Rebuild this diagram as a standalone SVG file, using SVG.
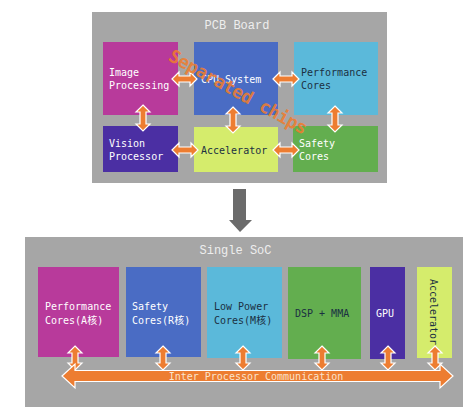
<svg xmlns="http://www.w3.org/2000/svg" width="474" height="415" viewBox="0 0 474 415">
<style>
.panel{fill:#a6a6a6}
.title{font-family:"Liberation Mono","DejaVu Sans Mono",monospace;font-size:12px;fill:#eeeeee;text-anchor:middle}
.lbl{font-family:"DejaVu Sans Mono","Noto Sans CJK SC",monospace;font-size:10px}
.w{fill:#ffffff}
.d{fill:#1b3042}
.arr{fill:#ed7d31;stroke:#ffffff;stroke-width:1.2;stroke-linejoin:miter}
.mag{fill:#b83a9b}.blu{fill:#4a6cc4}.lbl2{fill:#5bb9da}.pur{fill:#4b2fa3}.lime{fill:#d5ec6c}.grn{fill:#63ae4f}
.sep{font-family:"DejaVu Sans Mono",monospace;font-weight:bold;font-size:18px;letter-spacing:-0.5px;fill:#ed7d31;fill-opacity:0.9;text-anchor:middle}
</style>
<rect width="474" height="415" fill="#ffffff"/>
<g id="pcb-board">
<rect class="panel" x="92" y="12" width="295" height="171"/>
<text class="title" x="237" y="29">PCB Board</text>
</g>
<g id="image-processing">
<rect class="mag" x="103" y="42" width="75" height="73"/>
<text class="lbl w" x="109" y="75.5">Image</text>
<text class="lbl w" x="109" y="88.5">Processing</text>
</g>
<g id="cpu-system">
<rect class="blu" x="194" y="42" width="84" height="73"/>
<text class="lbl w" x="201" y="82.5">CPU System</text>
</g>
<g id="performance-cores">
<rect class="lbl2" x="294" y="42" width="84" height="73"/>
<text class="lbl d" x="301" y="75.5">Performance</text>
<text class="lbl d" x="301" y="88.5">Cores</text>
</g>
<g id="vision-processor">
<rect class="pur" x="103" y="126" width="75" height="46"/>
<text class="lbl w" x="109" y="146.5">Vision</text>
<text class="lbl w" x="109" y="159.5">Processor</text>
</g>
<g id="accelerator-top">
<rect class="lime" x="194" y="127" width="84" height="45"/>
<text class="lbl d" x="201" y="153.5">Accelerator</text>
</g>
<g id="safety-cores-top">
<rect class="grn" x="293" y="126" width="85" height="46"/>
<text class="lbl w" x="299" y="146.5">Safety</text>
<text class="lbl w" x="299" y="159.5">Cores</text>
</g>
<g id="connectors-top">
<path class="arr" d="M172,79 L179,72 L179,76 L190,76 L190,72 L197,79 L190,86 L190,82 L179,82 L179,86 Z"/>
<path class="arr" d="M273,79 L280,72 L280,76 L292,76 L292,72 L299,79 L292,86 L292,82 L280,82 L280,86 Z"/>
<path class="arr" d="M172,150 L179,143 L179,147 L191,147 L191,143 L198,150 L191,157 L191,153 L179,153 L179,157 Z"/>
<path class="arr" d="M273,150 L280,143 L280,147 L292,147 L292,143 L299,150 L292,157 L292,153 L280,153 L280,157 Z"/>
<path class="arr" d="M143,105 L150,112 L146,112 L146,124 L150,124 L143,131 L136,124 L140,124 L140,112 L136,112 Z"/>
<path class="arr" d="M233,107 L240,114 L236,114 L236,126 L240,126 L233,133 L226,126 L230,126 L230,114 L226,114 Z"/>
<path class="arr" d="M335,106 L342,113 L338,113 L338,125 L342,125 L335,132 L328,125 L332,125 L332,113 L328,113 Z"/>
</g>
<text class="sep" transform="translate(238,92) rotate(29)" x="0" y="6">Separated chips</text>
<g id="down-arrow">
<path d="M233,189 L246,189 L246,220 L252,220 L240,232 L229,220 L233,220 Z" fill="#6b6b6b"/>
</g>
<g id="single-soc">
<rect class="panel" x="25" y="237" width="438" height="170"/>
<text class="title" x="235.5" y="254">Single SoC</text>
</g>
<g id="performance-cores-a">
<rect class="mag" x="38" y="267" width="81" height="90"/>
<text class="lbl w" x="45" y="309.5">Performance</text>
<text class="lbl w" x="45" y="323.5">Cores(A核)</text>
</g>
<g id="safety-cores-r">
<rect class="blu" x="126" y="267" width="75" height="90"/>
<text class="lbl w" x="132" y="309.5">Safety</text>
<text class="lbl w" x="132" y="323.5">Cores(R核)</text>
</g>
<g id="low-power-cores-m">
<rect class="lbl2" x="207" y="267" width="75" height="91"/>
<text class="lbl d" x="214" y="309.5">Low Power</text>
<text class="lbl d" x="214" y="323.5">Cores(M核)</text>
</g>
<g id="dsp-mma">
<rect class="grn" x="288" y="267" width="73" height="92"/>
<text class="lbl d" x="295" y="316.5">DSP + MMA</text>
</g>
<g id="gpu">
<rect class="pur" x="370" y="267" width="35" height="92"/>
<text class="lbl w" x="376" y="316.5">GPU</text>
</g>
<g id="accelerator-soc">
<rect class="lime" x="417" y="267" width="35" height="91"/>
<text class="lbl d" transform="translate(433,312) rotate(90)" x="0" y="3.5" text-anchor="middle">Accelerator</text>
</g>
<g id="connectors-soc">
<path class="arr" d="M75,346 L82,353 L78,353 L78,363 L82,363 L75,370 L68,363 L72,363 L72,353 L68,353 Z"/>
<path class="arr" d="M163,346 L170,353 L166,353 L166,363 L170,363 L163,370 L156,363 L160,363 L160,353 L156,353 Z"/>
<path class="arr" d="M243,346 L250,353 L246,353 L246,363 L250,363 L243,370 L236,363 L240,363 L240,353 L236,353 Z"/>
<path class="arr" d="M322,346 L329,353 L325,353 L325,363 L329,363 L322,370 L315,363 L319,363 L319,353 L315,353 Z"/>
<path class="arr" d="M388,346 L395,353 L391,353 L391,363 L395,363 L388,370 L381,363 L385,363 L385,353 L381,353 Z"/>
<path class="arr" d="M435,346 L442,353 L438,353 L438,363 L442,363 L435,370 L428,363 L432,363 L432,353 L428,353 Z"/>
<path class="arr" d="M62,376 L75,364 L75,370.5 L440,370.5 L440,364 L453,376 L440,388 L440,381.5 L75,381.5 L75,388 Z"/>
<text class="lbl" x="256" y="379.5" text-anchor="middle" fill="#fbe3cc">Inter Processor Communication</text>
</g>
</svg>
